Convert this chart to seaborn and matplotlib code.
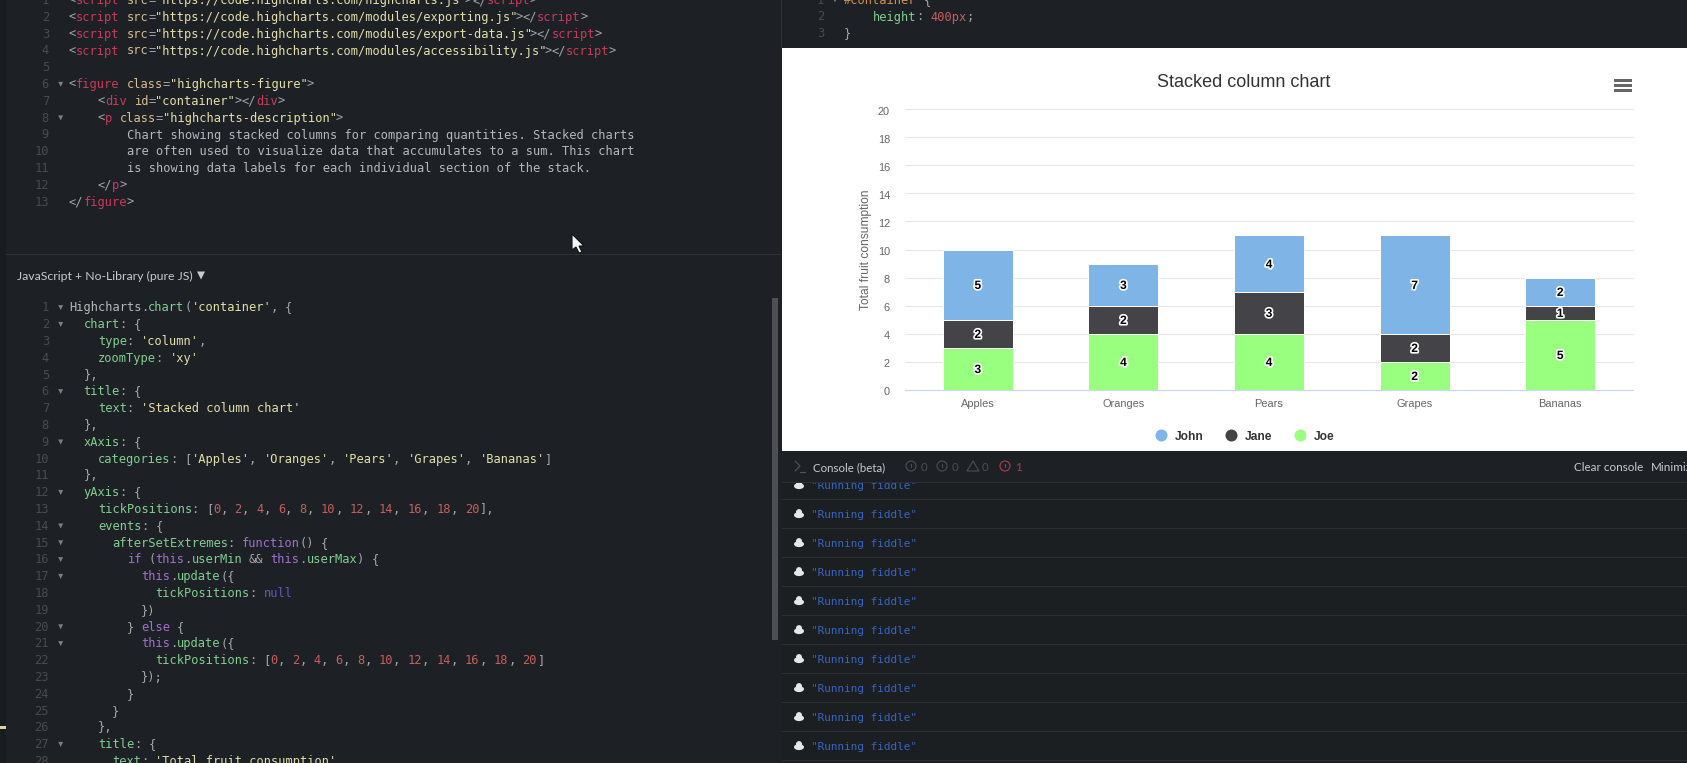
import re
import matplotlib
matplotlib.use("Agg")
import matplotlib.pyplot as plt
from matplotlib.lines import Line2D
from matplotlib.patches import Circle, Ellipse, Polygon, Rectangle
from matplotlib.transforms import ScaledTranslation
import matplotlib.patheffects as pe
import numpy as np
import seaborn as sns

## chart data
fruits = ['Apples', 'Oranges', 'Pears', 'Grapes', 'Bananas']
john = [5, 3, 4, 7, 2]
jane = [2, 2, 3, 2, 1]
joe = [3, 4, 4, 2, 5]
y_ticks = [0, 2, 4, 6, 8, 10, 12, 14, 16, 18, 20]

## editor text around the chart
html_lines = [
    '<script src="https://code.highcharts.com/highcharts.js"></script>',
    '<script src="https://code.highcharts.com/modules/exporting.js"></script>',
    '<script src="https://code.highcharts.com/modules/export-data.js"></script>',
    '<script src="https://code.highcharts.com/modules/accessibility.js"></script>',
    '',
    '<figure class="highcharts-figure">',
    '    <div id="container"></div>',
    '    <p class="highcharts-description">',
    '        Chart showing stacked columns for comparing quantities. Stacked charts',
    '        are often used to visualize data that accumulates to a sum. This chart',
    '        is showing data labels for each individual section of the stack.',
    '    </p>',
    '</figure>',
]
js_lines = [
    "Highcharts.chart('container', {",
    "  chart: {",
    "    type: 'column',",
    "    zoomType: 'xy'",
    "  },",
    "  title: {",
    "    text: 'Stacked column chart'",
    "  },",
    "  xAxis: {",
    "    categories: ['Apples', 'Oranges', 'Pears', 'Grapes', 'Bananas']",
    "  },",
    "  yAxis: {",
    "    tickPositions: [0, 2, 4, 6, 8, 10, 12, 14, 16, 18, 20],",
    "    events: {",
    "      afterSetExtremes: function() {",
    "        if (this.userMin && this.userMax) {",
    "          this.update({",
    "            tickPositions: null",
    "          })",
    "        } else {",
    "          this.update({",
    "            tickPositions: [0, 2, 4, 6, 8, 10, 12, 14, 16, 18, 20]",
    "          });",
    "        }",
    "      }",
    "    },",
    "    title: {",
    "      text: 'Total fruit consumption'",
]
css_lines = ['#container {', '    height: 400px;', '}']
html_folds = [6, 8]
js_folds = [1, 2, 6, 9, 12, 14, 15, 16, 17, 20, 21, 27]

W, H = 1687, 763
PX = 0.72  # pt per pixel at dpi 100
MONO = 'DejaVu Sans Mono'

BG = '#1d2126'
C_NUM = '#474c51'
C_PLAIN = '#b4b8ba'
C_PUNCT = '#a3a7aa'
C_STR = '#e3dfa6'
C_TAG = '#c93a5c'
C_ATTR = '#d9bd8b'
C_KEY = '#7fcf8f'
C_NUMBER = '#c65f58'
C_KW = '#a26fd0'
C_NULL = '#5f58bd'
C_ID = '#cf9050'

sns.set_theme(style='whitegrid', rc={'grid.color': '#e6e6e6', 'grid.linewidth': PX})
plt.rcParams['font.family'] = ['Liberation Sans', 'DejaVu Sans']

fig = plt.figure(figsize=(W / 100, H / 100), dpi=100, facecolor=BG)

## the fiddle around the chart, in pixel coordinates
bg = fig.add_axes([0, 0, 1, 1])
bg.set_xlim(0, W)
bg.set_ylim(H, 0)
bg.axis('off')


def draw_code(x0, y, tokens):
    for col, tok, color in tokens:
        if tok.strip():
            bg.text(x0 + col * 7.2, y, tok, family=MONO, fontsize=12 * PX, color=color, va='baseline')


def html_tokens(line):
    if line.strip() and not line.strip().startswith('<'):
        return [(len(line) - len(line.lstrip()), line.strip(), C_PLAIN)]
    tokens, after_bracket = [], False
    for m in re.finditer(r'"[^"]*"|</?|/?>|=|[\w-]+', line):
        tok = m.group()
        if tok.startswith('"'):
            color = C_STR
        elif tok[0] in '<>=/':
            color = C_PUNCT
        else:
            color = C_TAG if after_bracket else C_ATTR
        after_bracket = tok in ('<', '</')
        tokens.append((m.start(), tok, color))
    return tokens


def js_tokens(line):
    tokens = []
    for m in re.finditer(r"'[^']*'|#\w+|\d+(?:px)?|[A-Za-z]\w*|[^\s\w']+", line):
        tok = m.group()
        if tok[0] == "'":
            color = C_STR
        elif tok[0] == '#':
            color = C_ID
        elif tok[0].isdigit():
            color = C_NUMBER
        elif tok in ('function', 'if', 'else', 'this'):
            color = C_KW
        elif tok == 'null':
            color = C_NULL
        elif tok == 'Highcharts':
            color = C_PLAIN
        elif tok[0].isalpha():
            color = C_KEY
        else:
            color = C_PUNCT
        tokens.append((m.start(), tok, color))
    return tokens


def fold_mark(x, y):
    bg.add_patch(Polygon([(x - 2.5, y - 2.5), (x + 2.5, y - 2.5), (x, y + 2.5)], fc='#7b7f83', ec='none'))


# left strip, splitter, scrollbar
bg.add_patch(Rectangle((0, 0), 6.5, H, fc='#181b1f', ec='none'))
bg.add_patch(Rectangle((0, 725.5), 6, 3, fc='#d8d6a0', ec='none'))
bg.add_patch(Rectangle((6.5, 254), 775, 1.2, fc='#2d3237', ec='none'))
bg.add_patch(Rectangle((772, 298), 6, 342, fc='#4c5055', ec='none'))

for i, line in enumerate(html_lines):
    y = 0.3 + i * 16.8
    bg.text(49, y + 3.8, str(i + 1), family=MONO, fontsize=12 * PX, color=C_NUM, ha='right', va='baseline')
    draw_code(69, y + 3.8, html_tokens(line))
    if i + 1 in html_folds:
        fold_mark(60.7, y)

bg.text(17, 280, 'JavaScript + No-Library (pure JS)', family='Lato', fontsize=12.2 * PX, color='#c8cacc', va='baseline')
bg.add_patch(Polygon([(197, 271.5), (205, 271.5), (201, 279.5)], fc='#c8cacc', ec='none'))

for i, line in enumerate(js_lines):
    y = 307.6 + i * 16.8
    bg.text(49, y + 3.8, str(i + 1), family=MONO, fontsize=12 * PX, color=C_NUM, ha='right', va='baseline')
    draw_code(69, y + 3.8, js_tokens(line))
    if i + 1 in js_folds:
        fold_mark(60.7, y)

# css pane
bg.add_patch(Rectangle((781, 0), 1, 48, fc='#2d3237', ec='none'))
for i, line in enumerate(css_lines):
    y = -0.2 + i * 16.9
    bg.text(824, y + 3.8, str(i + 1), family=MONO, fontsize=12 * PX, color=C_NUM, ha='right', va='baseline')
    draw_code(844, y + 3.8, js_tokens(line))
fold_mark(835, -0.2)

# white chart panel
bg.add_patch(Rectangle((782, 47.7), W - 782, 403.3, fc='white', ec='none'))
for y in (80, 85.2, 90.4):
    bg.add_patch(Rectangle((1614, y - 1.5), 18, 3, fc='#666666', ec='none'))

# console
bg.add_patch(Rectangle((782, 451), W - 782, H - 451, fc='#1b1f22', ec='none'))
for k in range(10):
    y = 484.6 + k * 29
    bg.text(811.5, y + 4, '"Running fiddle"', family=MONO, fontsize=11 * PX, color='#3565c4', va='baseline')
    bg.add_patch(Ellipse((799, y + 1.5), 10, 6, fc='#e4e6e8', ec='none'))
    bg.add_patch(Circle((799, y - 1.5), 3, fc='#e4e6e8', ec='none'))
    bg.add_patch(Rectangle((782, y + 14.2), W - 782, 1, fc='#2c3033', ec='none'))
bg.add_patch(Rectangle((782, 451), W - 782, 31, fc=BG, ec='none', zorder=3))
bg.add_patch(Rectangle((782, 481.5), W - 782, 1, fc='#2c3033', ec='none', zorder=3))
bg.plot([795, 800, 795], [461, 466, 471], color='#54585c', lw=0.8, zorder=4)
bg.plot([800, 805], [472, 472], color='#54585c', lw=0.8, zorder=4)
bg.text(813, 471, 'Console (beta)', family='Lato', fontsize=11.5 * PX, color='#c8cacc', va='baseline', zorder=4)
for cx, txt, col in [(911, '0', '#4b4f53'), (942, '0', '#4b4f53'), (1005, '1', '#b23a50')]:
    bg.add_patch(Circle((cx, 466), 5, fc='none', ec=col, lw=0.8, zorder=4))
    bg.plot([cx, cx], [463.5, 466.5], color=col, lw=0.8, zorder=4)
    bg.text(cx + 10, 471, txt, family='Lato', fontsize=11.5 * PX, color=col, va='baseline', zorder=4)
bg.add_patch(Polygon([(973, 461), (979, 471), (967, 471)], fc='none', ec='#4b4f53', lw=0.8, zorder=4))
bg.text(982, 471, '0', family='Lato', fontsize=11.5 * PX, color='#4b4f53', va='baseline', zorder=4)
bg.text(1574, 471, 'Clear console', family='Lato', fontsize=11.6 * PX, color='#c8cacc', va='baseline', zorder=4)
bg.text(1651, 471, 'Minimize', family='Lato', fontsize=11.6 * PX, color='#c8cacc', va='baseline', zorder=4, clip_on=True)

# mouse pointer
bg.add_patch(Polygon([(572, 234), (572, 250), (576, 247), (579, 253), (582, 252), (579, 246), (584, 246)],
                     fc='#f4f4f4', ec='#111111', lw=0.8, zorder=5))

## the chart itself
ax = fig.add_axes([905 / W, 1 - 389.6 / H, 728 / W, 280.2 / H], facecolor='none')
ax.set_axisbelow(True)

bottom_jane = np.array(joe)
bottom_john = bottom_jane + np.array(jane)
common = dict(ax=ax, width=0.48, saturation=1, edgecolor='white', linewidth=PX, errorbar=None, legend=False)
sns.barplot(x=fruits, y=joe, color='#99ff7f', **common)
sns.barplot(x=fruits, y=jane, bottom=bottom_jane, color='#434348', **common)
sns.barplot(x=fruits, y=john, bottom=bottom_john, color='#7fb5e6', **common)

## data labels with the white outline
for bars in ax.containers:
    labels = ax.bar_label(bars, label_type='center', fontsize=12 * PX, fontweight='bold', color='black',
                          path_effects=[pe.withStroke(linewidth=2.4, foreground='white')])
    for t in labels:
        t.xyann = (0, -1)

ax.set_xlim(-0.5, 4.5)
ax.set_ylim(0, 20)
ax.set_yticks(y_ticks)
ax.grid(axis='x', visible=False)
ax.grid(axis='y', visible=True)
for gl in ax.get_ygridlines():
    gl.set_clip_on(False)
for side in ('top', 'left', 'right'):
    ax.spines[side].set_visible(False)
ax.spines['bottom'].set_color('#ccd6eb')
ax.spines['bottom'].set_linewidth(PX * 1.2)
ax.tick_params(axis='y', length=0, pad=15 * PX, labelsize=11 * PX, labelcolor='#666666')
ax.tick_params(axis='x', length=0, pad=9.5 * PX, labelsize=11 * PX, labelcolor='#666666')
# highcharts sits its y labels a bit under the grid lines
shift = ScaledTranslation(0, -1.7 / 100, fig.dpi_scale_trans)
for lbl in ax.get_yticklabels():
    lbl.set_transform(lbl.get_transform() + shift)

ax.set_ylabel('Total fruit consumption', fontsize=12 * PX, color='#666666')
ax.yaxis.set_label_coords(-0.045, 0.5)
ax.set_xlabel('')
ax.set_title('Stacked column chart', fontsize=18 * PX, color='#333333', x=0.465, y=1.095, va='center', pad=0)

handles = [Line2D([], [], marker='o', ls='', ms=12 * PX, mew=0, color=c)
           for c in ('#7fb5e6', '#434348', '#99ff7f')]
ax.legend(handles, ['John', 'Jane', 'Joe'], ncol=3, loc='center', frameon=False,
          bbox_to_anchor=(1245, 436.5), bbox_transform=bg.transData,
          prop={'size': 12 * PX, 'weight': 'bold'}, labelcolor='#333333',
          handlelength=1, handletextpad=0.65, columnspacing=1.8)

fig.savefig('out.png', dpi=100, facecolor=BG)
